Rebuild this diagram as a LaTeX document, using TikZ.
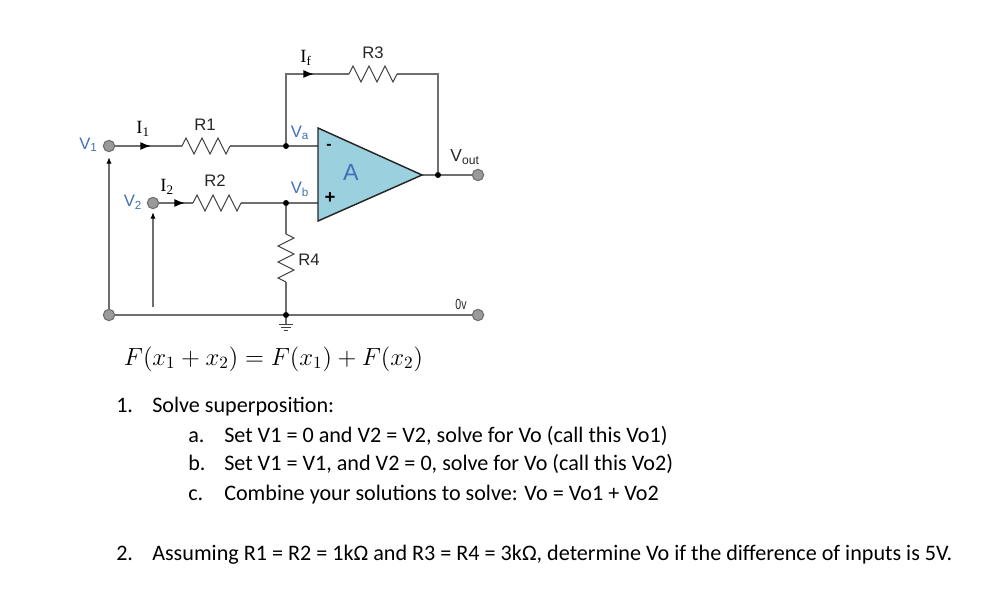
\documentclass[tikz,border=0pt]{standalone}
\usepackage{fontspec}
\setmainfont{Carlito}
\newfontfamily\labelfont{Liberation Sans}
\newfontfamily\curfont{Liberation Serif}
\usetikzlibrary{decorations.pathmorphing,arrows.meta,backgrounds}
\definecolor{wiregray}{HTML}{6E6E6E}
\definecolor{termgray}{HTML}{9A9A9A}
\definecolor{voltblue}{HTML}{3F70B8}
\definecolor{ampblue}{HTML}{9BD0DF}
\tikzset{
  wire/.style={draw=wiregray,line width=1.1pt},
  arrowwire/.style={wire,-{Latex[black,length=8pt,width=6pt]}},
  upwire/.style={wire,-{Latex[black,length=5pt,width=4pt]}},
  term/.style={circle,draw=wiregray,fill=termgray,line width=.8pt,minimum size=8.5pt,inner sep=0pt},
  junc/.style={circle,fill=black,minimum size=4.5pt,inner sep=0pt},
  res/.style={draw=black!75,line width=.7pt,decorate,decoration={zigzag,segment length=12pt,amplitude=6pt}},
  volt/.style={text=voltblue,font=\labelfont\fontsize{12.5}{14}\selectfont},
  lab/.style={text=black!85,font=\labelfont\fontsize{12.5}{14}\selectfont},
  cur/.style={font=\curfont\fontsize{14}{16}\selectfont},
  txt/.style={anchor=base west,inner sep=0pt,font=\fontsize{16.6}{20}\selectfont}
}
\begin{document}
\begin{tikzpicture}[x=0.75pt,y=-0.75pt]
\useasboundingbox (0,0) rectangle (994,588);
% amplifier
\draw[fill=ampblue,draw=black!85,line width=1.1pt] (318,128) -- (422,175) -- (318,221) -- cycle;
\coordinate (ampa) at (318,146);
\coordinate (ampb) at (318,203);
\coordinate (ampo) at (422,175);
% terminals and dots
\node[term] (v1) at (109,146) {};
\node[term] (v2) at (153,203) {};
\node[term] (vout) at (478,175) {};
\node[term] (gl) at (109,315) {};
\node[term] (gr) at (478,315) {};
\node[junc] (ja) at (286,146) {};
\node[junc] (jb) at (286,203) {};
\node[junc] (jo) at (438,175) {};
\node[junc] (jg) at (286,315) {};
% resistor ends
\coordinate (r1a) at (182,146);
\coordinate (r1b) at (230,146);
\coordinate (r2a) at (193,203);
\coordinate (r2b) at (241,203);
\coordinate (r3a) at (349,74);
\coordinate (r3b) at (397,74);
\coordinate (r4a) at (286,234);
\coordinate (r4b) at (286,282);
\coordinate (fa) at (286,74);
\coordinate (fb) at (438,74);
\coordinate (i1) at (151,146);
\coordinate (i2) at (185,203);
\coordinate (if) at (314,74);
\coordinate (up1e) at (109,157);
\coordinate (up2) at (153,307);
\coordinate (up2e) at (153,212);
\coordinate (gnd) at (286,324);
% wires
\begin{scope}[on background layer]
\draw[wire] (v1) -- (r1a);
\draw[arrowwire] (v1) -- (i1);
\draw[wire] (r1b) -- (ja) -- (ampa);
\draw[wire] (v2) -- (r2a);
\draw[arrowwire] (v2) -- (i2);
\draw[wire] (r2b) -- (jb) -- (ampb);
\draw[wire] (ja) -- (fa) -- (r3a);
\draw[arrowwire] (fa) -- (if);
\draw[wire] (r3b) -- (fb) -- (jo);
\draw[wire] (ampo) -- (vout);
\draw[wire] (jb) -- (r4a);
\draw[wire] (r4b) -- (jg) -- (gnd);
\draw[wire,line width=1.6pt] (gl) -- (gr);
\draw[upwire] (gl) -- (up1e);
\draw[upwire] (up2) -- (up2e);
\end{scope}
\draw[res] (r1a) -- (r1b);
\draw[res] (r2a) -- (r2b);
\draw[res] (r3a) -- (r3b);
\draw[res] (r4a) -- (r4b);
% ground
\draw[black!75,line width=.7pt] (279,324)--(293,324);
\draw[black!75,line width=.7pt] (281,327)--(291,327);
\draw[black!75,line width=.7pt] (284,330)--(288,330);
% labels
\node[volt] (lv1) at (88.5,145) {V\textsubscript{1}};
\node[volt] (lv2) at (133,202) {V\textsubscript{2}};
\node[volt] (lva) at (300,133) {V\textsubscript{a}};
\node[volt] (lvb) at (300,189) {V\textsubscript{b}};
\node[volt,font=\labelfont\fontsize{17.5}{19}\selectfont] (la) at (351,172) {A};
\node[font=\labelfont\bfseries\fontsize{12}{13}\selectfont] (lm) at (329,147) {-};
\node[font=\labelfont\bfseries\fontsize{14}{14}\selectfont] (lp) at (330,198) {+};
\node[lab] (lr1) at (205,124.5) {R1};
\node[lab] (lr2) at (215,181) {R2};
\node[lab] (lr3) at (373,52.5) {R3};
\node[lab] (lr4) at (309,259.5) {R4};
\node[cur] (li1) at (143,129) {I\textsubscript{1}};
\node[cur] (li2) at (167,187) {I\textsubscript{2}};
\node[cur] (lif) at (306,58) {I\textsubscript{f}};
\node[lab,font=\labelfont\fontsize{13}{14}\selectfont] (lvo) at (465,157) {V\textsubscript{out}};
\node[lab,font=\labelfont\fontsize{11}{12}\selectfont,xscale=.72] (l0) at (461,304) {0v};
\node[font=\fontsize{14.4}{17}\selectfont,scale=1.29] (eq) at (273.5,359) {$F(x_1+x_2)=F(x_1)+F(x_2)$};
% text
\node[txt] (n1) at (116,412) {1.};
\node[txt] (t1) at (152,412) {Solve superposition:};
\node[txt] (na) at (188,442) {a.};
\node[txt] (ta) at (224,442) {Set V1 = 0 and V2 = V2, solve for Vo (call this Vo1)};
\node[txt] (nb) at (188,470) {b.};
\node[txt] (tb) at (224,470) {Set V1 = V1, and V2 = 0, solve for Vo (call this Vo2)};
\node[txt] (nc) at (188,500) {c.};
\node[txt] (tc) at (224,500) {Combine your solutions to solve: Vo = Vo1 + Vo2};
\node[txt] (n2) at (116,560) {2.};
\node[txt] (t2) at (152,560) {Assuming R1 = R2 = 1kΩ and R3 = R4 = 3kΩ, determine Vo if the difference of inputs is 5V.};
\end{tikzpicture}
\end{document}
